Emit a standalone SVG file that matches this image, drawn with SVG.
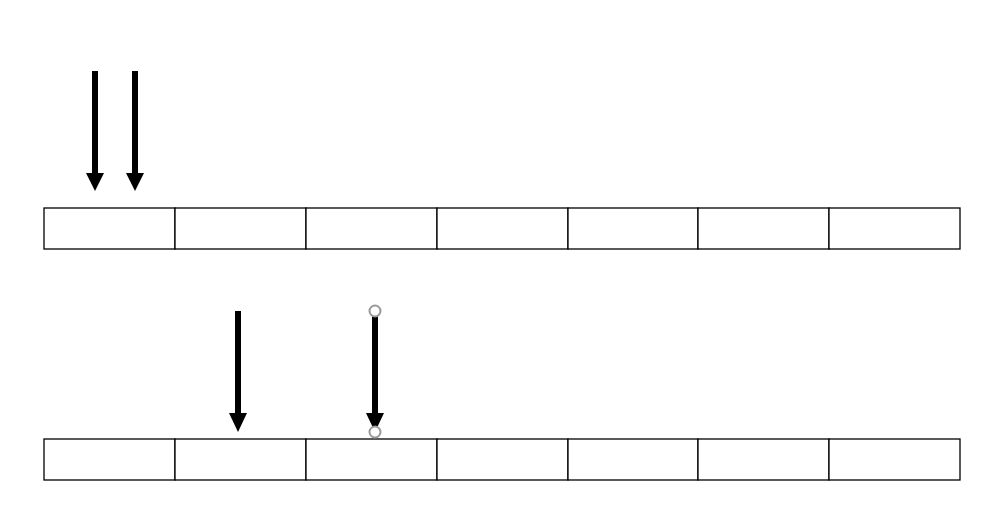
<svg xmlns="http://www.w3.org/2000/svg" width="1004" height="508" viewBox="0 0 1004 508">
<style>
.cell{fill:#fff;stroke:#000;stroke-width:1.3}
.shaft{stroke:#000;stroke-width:6}
.head{fill:#000}
.handle{fill:#fff;stroke:#999;stroke-width:2}
</style>
<rect width="1004" height="508" fill="#fff"/>
<g id="row1">
<rect class="cell" x="44" y="208" width="131" height="41"/>
<rect class="cell" x="175" y="208" width="131" height="41"/>
<rect class="cell" x="306" y="208" width="131" height="41"/>
<rect class="cell" x="437" y="208" width="131" height="41"/>
<rect class="cell" x="568" y="208" width="130" height="41"/>
<rect class="cell" x="698" y="208" width="131" height="41"/>
<rect class="cell" x="829" y="208" width="131" height="41"/>
</g>
<g id="row2">
<rect class="cell" x="44" y="439" width="131" height="41"/>
<rect class="cell" x="175" y="439" width="131" height="41"/>
<rect class="cell" x="306" y="439" width="131" height="41"/>
<rect class="cell" x="437" y="439" width="131" height="41"/>
<rect class="cell" x="568" y="439" width="130" height="41"/>
<rect class="cell" x="698" y="439" width="131" height="41"/>
<rect class="cell" x="829" y="439" width="131" height="41"/>
</g>
<g id="connectors">
<line class="shaft" x1="95" y1="71" x2="95" y2="175"/>
<polygon class="head" points="86,173 104,173 95,191"/>
<line class="shaft" x1="135" y1="71" x2="135" y2="175"/>
<polygon class="head" points="126,173 144,173 135,191"/>
<line class="shaft" x1="238" y1="311" x2="238" y2="415"/>
<polygon class="head" points="229,413 247,413 238,432"/>
<line class="shaft" x1="375" y1="316" x2="375" y2="415"/>
<polygon class="head" points="366,413 384,413 375,432"/>
<circle class="handle" cx="375" cy="311" r="5.5"/>
<circle class="handle" cx="375" cy="432" r="5.5"/>
</g>
</svg>
